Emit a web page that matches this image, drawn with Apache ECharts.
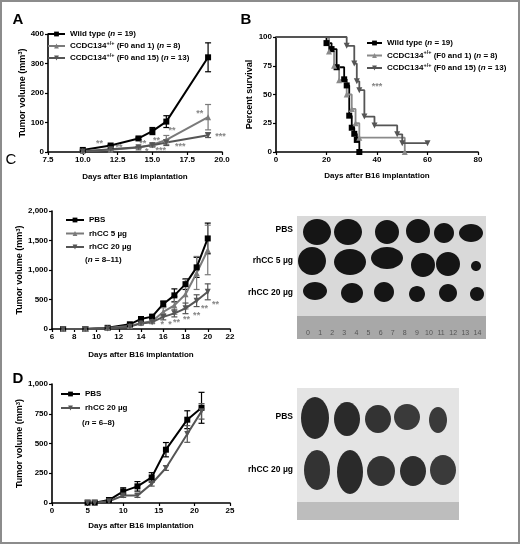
<!DOCTYPE html>
<html><head><meta charset="utf-8">
<script src="https://cdn.jsdelivr.net/npm/echarts@6/dist/echarts.min.js"></script>
<style>html,body{margin:0;padding:0;background:#fff}#c{width:520px;height:544px}</style>
</head><body><div id="c"></div>
<script>
// ---------- DATA ----------
// Panel A: tumor volume
const daysA = [10, 12, 14, 15, 16, 19];
const wtA = [7, 22, 46, 71, 103, 321];
const wtAErr = [2, 3, 4, 12, 20, 49];
const f01A = [3, 8, 15, 25, 41, 118];
const f01AErr = [1, 2, 4, 6, 15, 43];
const f015A = [2, 9, 16, 23, 32, 57];
const f015AErr = [1, 2, 3, 5, 10, 8];
const starsA = [[11.2, 30, '**'], [12.6, 14, '**'], [14.3, 30, '**'], [14.6, 3, '*'], [15.3, 40, '**'], [15.6, 4, '***'], [16.4, 72, '**'], [17.0, 20, '***'], [18.4, 130, '**'], [19.9, 54, '***']];
// Panel B: survival
const survDaysWT = [0, 20, 22, 24, 27, 28, 29, 30, 31, 32, 33];
const survWT = [100, 94.7, 89.5, 73.7, 63.2, 57.9, 31.6, 21.1, 15.8, 10.5, 0];
const survDays01 = [0, 21, 23, 25, 28, 30, 31.5, 33, 51];
const surv01 = [100, 87.5, 75, 62.5, 50, 37.5, 25, 12.5, 0];
const survDays015 = [0, 28, 31, 32, 33, 35, 39, 48, 50, 60];
const surv015 = [100, 92.3, 76.9, 61.5, 53.8, 30.8, 23.1, 15.4, 7.7, 7.7];
const starsB = [[40, 57, '***']];
// Panel C
const daysC = [7, 9, 11, 13, 14, 15, 16, 17, 18, 19, 20];
const pbsC = [0, 0, 20, 80, 170, 210, 425, 570, 760, 1045, 1535];
const pbsCErr = [0, 0, 5, 15, 20, 30, 50, 110, 90, 170, 260];
const cc5C = [0, 0, 15, 50, 100, 130, 290, 400, 590, 950, 1340];
const cc5CErr = [0, 0, 5, 10, 15, 25, 70, 150, 250, 280, 420];
const cc20C = [0, 0, 10, 40, 95, 115, 205, 265, 350, 480, 630];
const cc20CErr = [0, 0, 3, 8, 15, 20, 50, 60, 90, 100, 135];
const starsC = [[15.9, 70, '*'], [16.6, 70, '*'], [17.2, 115, '**'], [18.1, 155, '**'], [19.0, 230, '**'], [19.7, 345, '**'], [20.7, 414, '**']];
// Panel D
const daysD = [5, 6, 8, 10, 12, 14, 16, 19, 21];
const pbsD = [3, 3, 25, 98, 140, 215, 448, 700, 800];
const pbsDErr = [0, 0, 5, 30, 40, 40, 60, 75, 130];
const cc20D = [2, 2, 15, 62, 62, 162, 294, 580, 770];
const cc20DErr = [0, 0, 4, 15, 15, 20, 20, 70, 65];
// Tick labels / ranges
const ticksA = {x: [7.5, 20, 2.5], y: [0, 400, 100]};
const ticksB = {x: [0, 80, 20], y: [0, 100, 25]};
const ticksC = {x: [6, 22, 2], y: [0, 2000, 500]};
const ticksD = {x: [0, 25, 5], y: [0, 1000, 250]};

// ---------- HELPERS ----------
const FONT = "'Liberation Sans', Arial, sans-serif";
const C_BLACK = '#000', C_LIGHT = '#7a7a7a', C_MID = '#555';
const pts = (xs, ys) => xs.map((x, i) => [x, ys[i]]);
const errs = (xs, ys, es) => xs.map((x, i) => [x, Math.max(0, ys[i] - es[i]), ys[i] + es[i]]).filter((d, i) => es[i] > 0);
const fmtComma = v => String(v).replace(/\B(?=(\d{3})+(?!\d))/g, ',');

function errRender(params, api) {
  const x = api.value(0), lo = api.value(1), hi = api.value(2);
  const p1 = api.coord([x, hi]), p2 = api.coord([x, lo]);
  const w = 3;
  const style = {stroke: api.visual('color'), lineWidth: 1.2};
  return {type: 'group', children: [
    {type: 'line', shape: {x1: p1[0], y1: p1[1], x2: p2[0], y2: p2[1]}, style},
    {type: 'line', shape: {x1: p1[0] - w, y1: p1[1], x2: p1[0] + w, y2: p1[1]}, style},
    {type: 'line', shape: {x1: p2[0] - w, y1: p2[1], x2: p2[0] + w, y2: p2[1]}, style}
  ]};
}

function xAx(idx, t, name, gap, fmt) {
  return {type: 'value', gridIndex: idx, min: t[0], max: t[1], interval: t[2],
    name, nameLocation: 'middle', nameGap: gap,
    nameTextStyle: {fontFamily: FONT, fontWeight: 'bold', fontSize: 8, color: '#000'},
    axisLine: {lineStyle: {color: '#000', width: 1.6}},
    axisTick: {length: 3, lineStyle: {color: '#000', width: 1.2}},
    axisLabel: {fontFamily: FONT, fontWeight: 'bold', fontSize: 8, color: '#000', margin: 4, formatter: fmt},
    splitLine: {show: false}};
}
function yAx(idx, t, name, gap, fmt) {
  return {type: 'value', gridIndex: idx, min: t[0], max: t[1], interval: t[2],
    name, nameLocation: 'middle', nameGap: gap, nameRotate: 90,
    nameTextStyle: {fontFamily: FONT, fontWeight: 'bold', fontSize: 9, color: '#000',
      rich: {sup: {fontSize: 6, fontWeight: 'bold', fontFamily: FONT, verticalAlign: 'top', lineHeight: 6}}},
    axisLine: {show: true, lineStyle: {color: '#000', width: 1.6}},
    axisTick: {show: true, length: 3, lineStyle: {color: '#000', width: 1.2}},
    axisLabel: {fontFamily: FONT, fontWeight: 'bold', fontSize: 8, color: '#000', margin: 4, formatter: fmt},
    splitLine: {show: false}};
}
function lineS(name, idx, data, color, symbol, rot, extra) {
  return Object.assign({type: 'line', name, xAxisIndex: idx, yAxisIndex: idx, data,
    color, symbol, symbolSize: 6, symbolRotate: rot || 0, showSymbol: true,
    lineStyle: {color, width: 2}, itemStyle: {color}, z: 3, animation: false}, extra || {});
}
function errS(name, idx, data, color) {
  return {type: 'custom', name, xAxisIndex: idx, yAxisIndex: idx, data, renderItem: errRender,
    encode: {x: 0, y: [1, 2]}, itemStyle: {color}, z: 2, animation: false, silent: true};
}
function starS(idx, data, color) {
  return {type: 'scatter', xAxisIndex: idx, yAxisIndex: idx, data, symbolSize: 0, silent: true,
    label: {show: true, position: 'inside', formatter: p => p.data[2], fontFamily: FONT, fontWeight: 'bold', fontSize: 9, color: color || '#666'},
    z: 4, animation: false};
}
function survS(name, xs, ys, color, symbol, rot) {
  const d = xs.map((x, i) => i === 0 ? {value: [x, ys[i]], symbol: 'none'} : [x, ys[i]]);
  return lineS(name, 1, d, color, symbol, rot, {step: 'end', symbolSize: 6, lineStyle: {color, width: 1.8}});
}

const N_WT = 'Wild type (n = 19)', N_01 = 'CCDC134+/+ (F0 and 1) (n = 8)', N_015 = 'CCDC134+/+ (F0 and 15) (n = 13)';
const N_PBS = 'PBS', N_5 = 'rhCC 5 µg', N_20 = 'rhCC 20 µg';
const richNames = {
  [N_WT]: 'Wild type ({i|n} = 19)',
  [N_01]: 'CCDC134{sup|+/+} (F0 and 1) ({i|n} = 8)',
  [N_015]: 'CCDC134{sup|+/+} (F0 and 15) ({i|n} = 13)'
};
const legendText = {fontFamily: FONT, fontWeight: 'bold', fontSize: 8, color: '#000', lineHeight: 12,
  rich: {sup: {fontSize: 5.5, fontWeight: 'bold', fontFamily: FONT, verticalAlign: 'top', lineHeight: 7},
         i: {fontStyle: 'italic', fontWeight: 'bold', fontSize: 8, fontFamily: FONT, lineHeight: 12}}};
function legend(names, left, top, gap, iw) {
  return {data: names, left, top, orient: 'vertical', itemWidth: iw, itemHeight: 6, itemGap: gap,
    padding: 0, selectedMode: false, textStyle: legendText,
    formatter: n => richNames[n.trim()] || n.trim()};
}

// photos (decorative)
function blob(cx, cy, rx, ry, fill) {
  return {type: 'ellipse', shape: {cx, cy, rx, ry}, style: {fill: fill || '#151515'}, z: 5, silent: true};
}
function txt(x, y, text, align, size, weight) {
  return {type: 'text', x, y, silent: true, z: 6,
    style: {text, fill: '#000', font: `${weight || 'bold'} ${size || 9}px ${FONT}`, textAlign: align || 'left', textVerticalAlign: 'middle'}};
}

const photoC = [
  {type: 'rect', shape: {x: 297, y: 216, width: 189, height: 123}, style: {fill: '#d9d9d9'}, z: 4, silent: true},
  {type: 'rect', shape: {x: 297, y: 316, width: 189, height: 23}, style: {fill: '#a8a8a8'}, z: 4, silent: true},
  blob(317, 232, 14, 13), blob(348, 232, 14, 13), blob(387, 232, 12, 12), blob(418, 231, 12, 12), blob(444, 233, 10, 10), blob(471, 233, 12, 9),
  blob(312, 261, 14, 14), blob(350, 262, 16, 13), blob(387, 258, 16, 11), blob(423, 265, 12, 12), blob(448, 264, 12, 12), blob(476, 266, 5, 5),
  blob(315, 291, 12, 9), blob(352, 293, 11, 10), blob(384, 292, 10, 10), blob(417, 294, 8, 8), blob(448, 293, 9, 9), blob(477, 294, 7, 7)
];
const rulerC = [];
for (let i = 0; i <= 14; i++) {
  rulerC.push({type: 'text', x: 308 + i * 12.1, y: 333, silent: true, z: 6,
    style: {text: String(i), fill: '#555', font: `7px ${FONT}`, textAlign: 'center', textVerticalAlign: 'middle'}});
}
const photoD = [
  {type: 'rect', shape: {x: 297, y: 388, width: 162, height: 132}, style: {fill: '#e4e4e4'}, z: 4, silent: true},
  {type: 'rect', shape: {x: 297, y: 502, width: 162, height: 18}, style: {fill: '#bdbdbd'}, z: 4, silent: true},
  blob(315, 418, 14, 21, '#2a2a2a'), blob(347, 419, 13, 17, '#2a2a2a'), blob(378, 419, 13, 14, '#333'), blob(407, 417, 13, 13, '#3a3a3a'), blob(438, 420, 9, 13, '#3a3a3a'),
  blob(317, 470, 13, 20, '#333'), blob(350, 472, 13, 22, '#2a2a2a'), blob(381, 471, 14, 15, '#333'), blob(413, 471, 13, 15, '#2e2e2e'), blob(443, 470, 13, 15, '#3a3a3a')
];

const option = {
  animation: false,
  backgroundColor: '#fff',
  textStyle: {fontFamily: FONT},
  grid: [
    {left: 48, top: 34, width: 174, height: 118},
    {left: 276, top: 37, width: 202, height: 115},
    {left: 52, top: 211, width: 178, height: 118},
    {left: 52, top: 384, width: 178, height: 119}
  ],
  xAxis: [
    xAx(0, ticksA.x, 'Days after B16 implantation', 21, v => v.toFixed(1)),
    xAx(1, ticksB.x, 'Days after B16 implantation', 20),
    xAx(2, ticksC.x, 'Days after B16 implantation', 22),
    xAx(3, ticksD.x, 'Days after B16 implantation', 19)
  ],
  yAxis: [
    yAx(0, ticksA.y, 'Tumor volume (mm{sup|3})', 18),
    yAx(1, ticksB.y, 'Percent survival', 22),
    yAx(2, ticksC.y, 'Tumor volume (mm{sup|3})', 27, fmtComma),
    yAx(3, ticksD.y, 'Tumor volume (mm{sup|3})', 27, fmtComma)
  ],
  legend: [
    legend([N_WT, N_01, N_015], 47, 28, 0, 17),
    legend([N_WT + ' ', N_01 + ' ', N_015 + ' '], 366, 37, 0.5, 15),
    legend([N_PBS, N_5, N_20], 65, 214, 1.5, 18),
    legend([N_PBS + ' ', N_20 + ' '], 60, 388, 2, 19)
  ],
  series: [
    // A
    errS('eA1', 0, errs(daysA, wtA, wtAErr), C_BLACK),
    errS('eA2', 0, errs(daysA, f01A, f01AErr), C_LIGHT),
    errS('eA3', 0, errs(daysA, f015A, f015AErr), C_MID),
    lineS(N_WT, 0, pts(daysA, wtA), C_BLACK, 'rect'),
    lineS(N_01, 0, pts(daysA, f01A), C_LIGHT, 'triangle'),
    lineS(N_015, 0, pts(daysA, f015A), C_MID, 'triangle', 180),
    starS(0, starsA),
    // B
    survS(N_WT + ' ', survDaysWT, survWT, C_BLACK, 'rect'),
    survS(N_01 + ' ', survDays01, surv01, '#8a8a8a', 'triangle'),
    survS(N_015 + ' ', survDays015, surv015, C_MID, 'triangle', 180),
    starS(1, starsB),
    // C
    errS('eC1', 2, errs(daysC, pbsC, pbsCErr), C_BLACK),
    errS('eC2', 2, errs(daysC, cc5C, cc5CErr), C_LIGHT),
    errS('eC3', 2, errs(daysC, cc20C, cc20CErr), C_MID),
    lineS(N_PBS, 2, pts(daysC, pbsC), C_BLACK, 'rect'),
    lineS(N_5, 2, pts(daysC, cc5C), C_LIGHT, 'triangle'),
    lineS(N_20, 2, pts(daysC, cc20C), C_MID, 'triangle', 180),
    starS(2, starsC),
    // D
    errS('eD1', 3, errs(daysD, pbsD, pbsDErr), C_BLACK),
    errS('eD2', 3, errs(daysD, cc20D, cc20DErr), C_MID),
    lineS(N_PBS + ' ', 3, pts(daysD, pbsD), C_BLACK, 'rect'),
    lineS(N_20 + ' ', 3, pts(daysD, cc20D), C_MID, 'triangle', 180)
  ],
  graphic: [
    {type: 'rect', shape: {x: 1, y: 1, width: 518, height: 542}, style: {fill: 'none', stroke: '#8c8c8c', lineWidth: 2}, z: 10, silent: true},
    txt(18, 20, 'A', 'center', 15),
    txt(246, 20, 'B', 'center', 15),
    txt(11, 160, 'C', 'center', 15, 'normal'),
    txt(18, 379, 'D', 'center', 15),
    {type: 'text', x: 85, y: 260, silent: true, z: 6, style: {rich: {b: {font: `bold 8px ${FONT}`, fill: '#000'}, i: {font: `italic bold 8px ${FONT}`, fill: '#000'}}, text: '{b|(}{i|n}{b| = 8–11)}', textVerticalAlign: 'middle'}},
    {type: 'text', x: 82, y: 423, silent: true, z: 6, style: {rich: {b: {font: `bold 8px ${FONT}`, fill: '#000'}, i: {font: `italic bold 8px ${FONT}`, fill: '#000'}}, text: '{b|(}{i|n}{b| = 6–8)}', textVerticalAlign: 'middle'}},
    ...photoC, ...rulerC, ...photoD,
    txt(293, 230, 'PBS', 'right', 8.5),
    txt(293, 261, 'rhCC 5 µg', 'right', 8.5),
    txt(293, 293, 'rhCC 20 µg', 'right', 8.5),
    txt(293, 417, 'PBS', 'right', 8.5),
    txt(293, 470, 'rhCC 20 µg', 'right', 8.5)
  ]
};
const chart = echarts.init(document.getElementById('c'), null, {renderer: 'canvas'});
chart.setOption(option);
</script></body></html>
